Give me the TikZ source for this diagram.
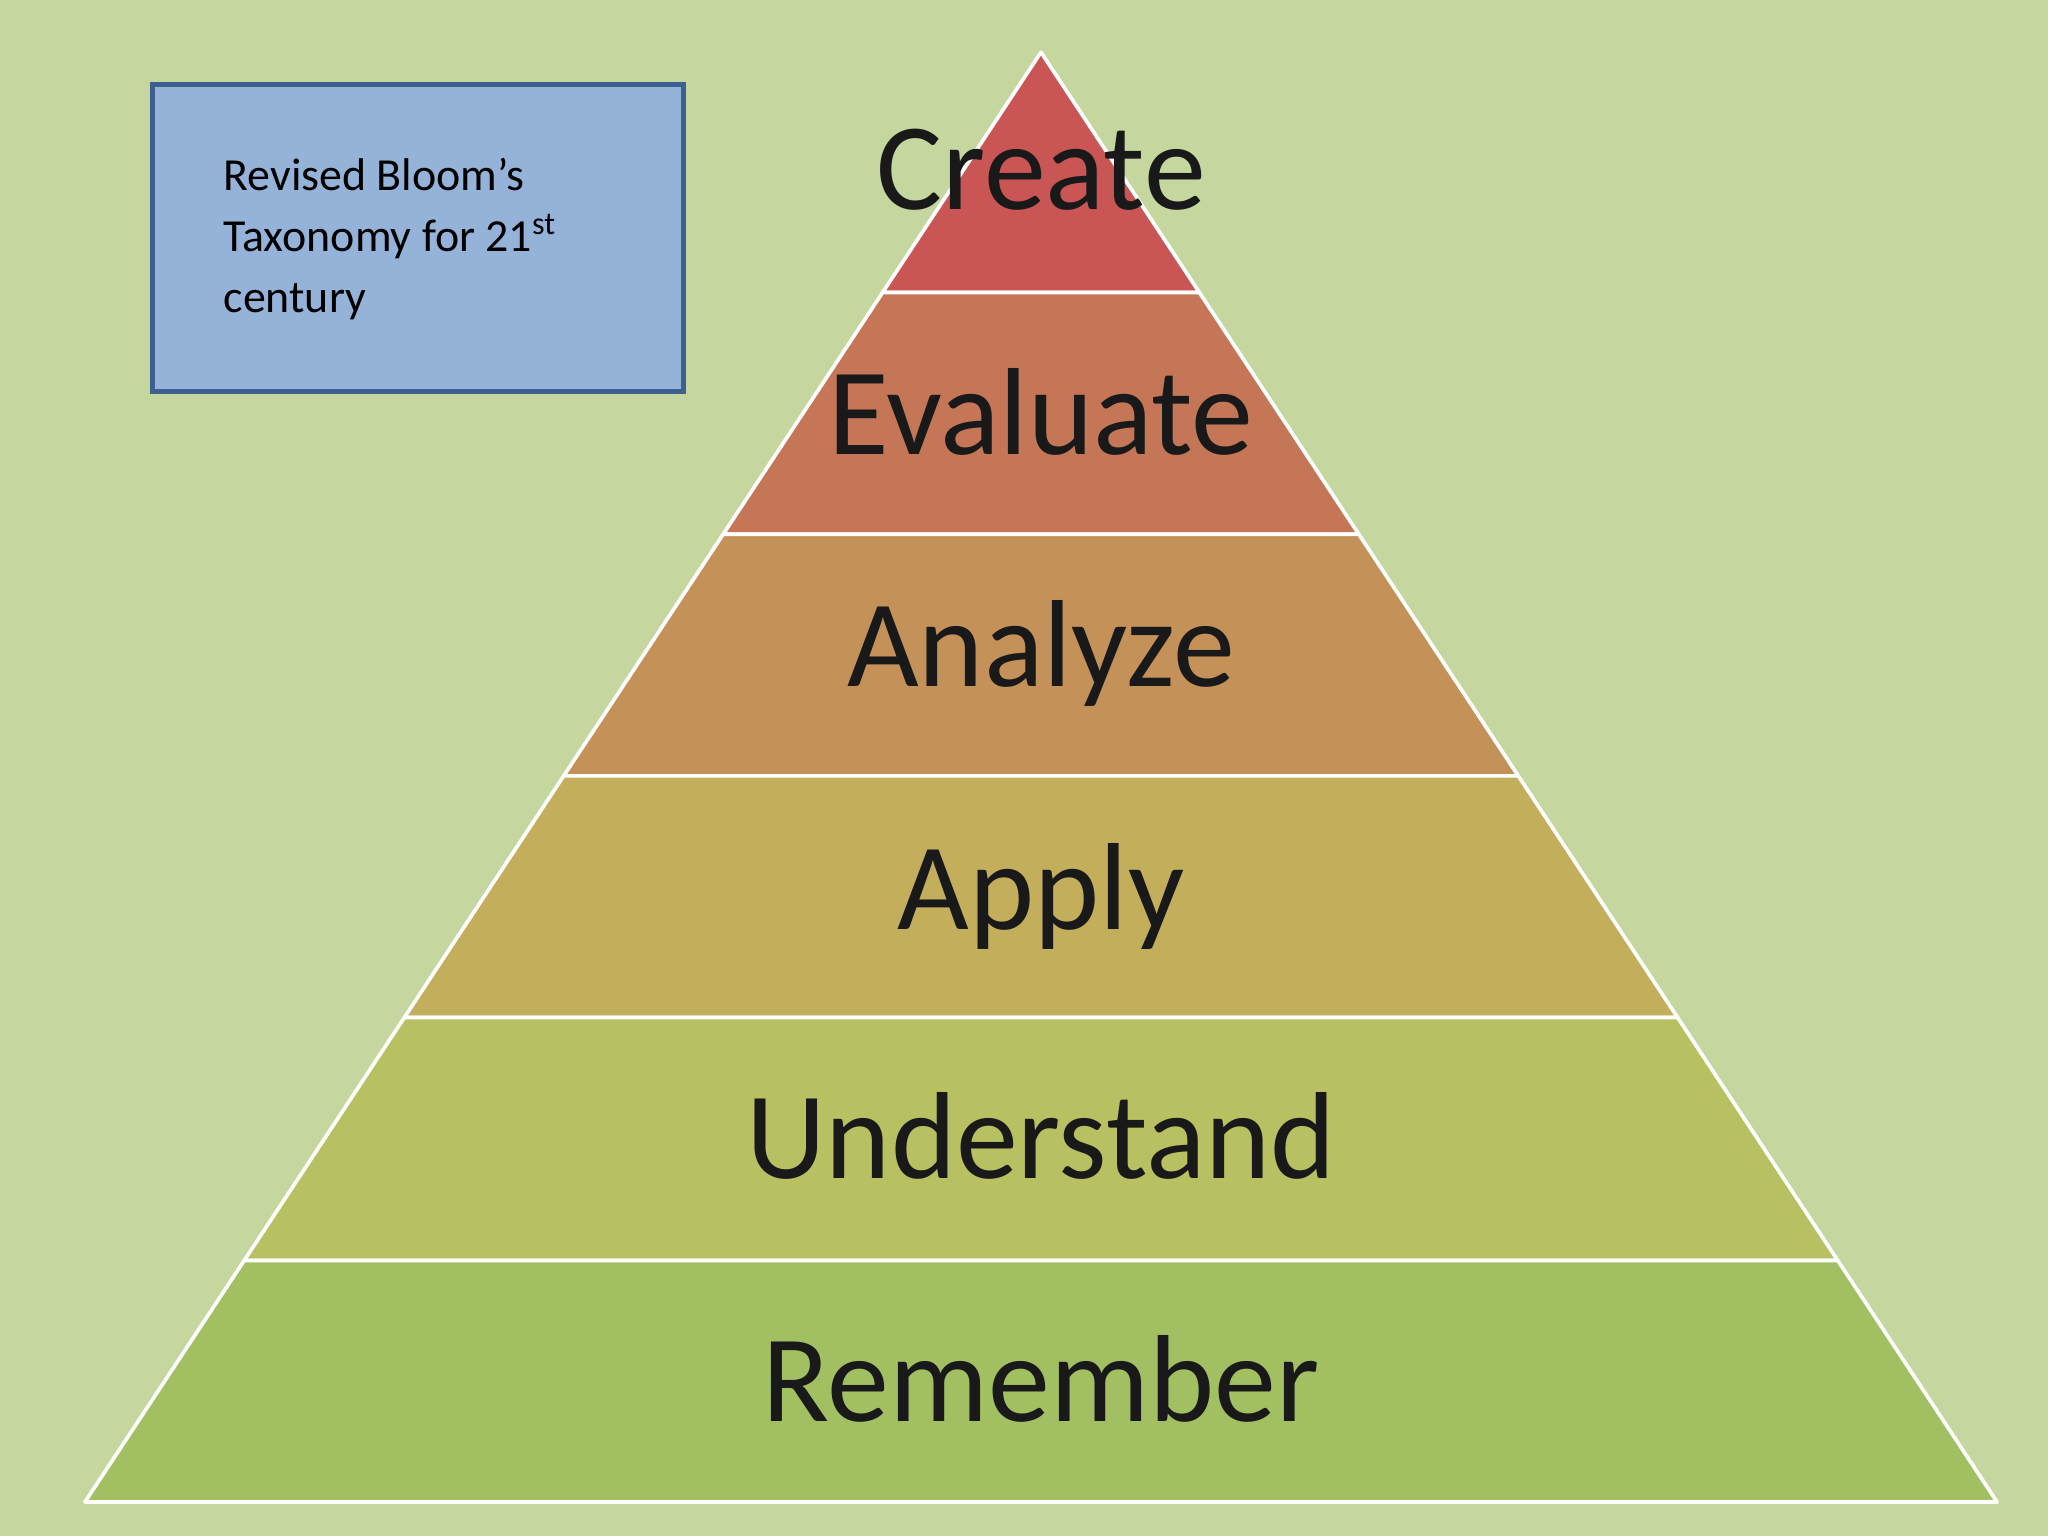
\documentclass[tikz,border=0pt]{standalone}
\usepackage{fontspec}
\setmainfont{Carlito}
\begin{document}
\begin{tikzpicture}[x=0.02cm,y=-0.02cm,
  band/.style={draw=white,line width=1.6pt,line join=round},
  lab/.style={font=\fontsize{54}{60}\selectfont,text=black!90}]
\definecolor{bg}{HTML}{C5D79F}
\definecolor{c1}{HTML}{C95555}
\definecolor{c2}{HTML}{C47657}
\definecolor{c3}{HTML}{C49258}
\definecolor{c4}{HTML}{C3AE5C}
\definecolor{c5}{HTML}{B8C161}
\definecolor{c6}{HTML}{A2C062}
\definecolor{boxf}{HTML}{95B3D9}
\definecolor{boxd}{HTML}{3C6090}
\fill[bg] (0,0) rectangle (1568,1176);
\useasboundingbox (0,0) rectangle (1568,1176);
\filldraw[band,fill=c1] (797,40) -- (918.3,224) -- (675.7,224) -- cycle;
\filldraw[band,fill=c2] (675.7,224) -- (918.3,224) -- (1040.3,409) -- (553.7,409) -- cycle;
\filldraw[band,fill=c3] (553.7,409) -- (1040.3,409) -- (1162.4,594) -- (431.6,594) -- cycle;
\filldraw[band,fill=c4] (431.6,594) -- (1162.4,594) -- (1284.4,779) -- (309.6,779) -- cycle;
\filldraw[band,fill=c5] (309.6,779) -- (1284.4,779) -- (1407,965) -- (187,965) -- cycle;
\filldraw[band,fill=c6] (187,965) -- (1407,965) -- (1529,1150) -- (65,1150) -- cycle;
\node[lab] (create) at (797,130) {Create};
\node[lab] (evaluate) at (797,315) {Evaluate};
\node[lab] (analyze) at (797,500) {Analyze};
\node[lab] (apply) at (797,686) {Apply};
\node[lab] (understand) at (797,870) {Understand};
\node[lab] (remember) at (797,1056) {Remember};
\draw[boxd,fill=boxf,line width=2.2pt] (117,65) rectangle (523,300);
\node[anchor=north west,align=left,font=\fontsize{20}{26.5}\selectfont] (title) at (165,115)
 {Revised Bloom’s\\Taxonomy for 21\textsuperscript{st}\\century};
\end{tikzpicture}
\end{document}
